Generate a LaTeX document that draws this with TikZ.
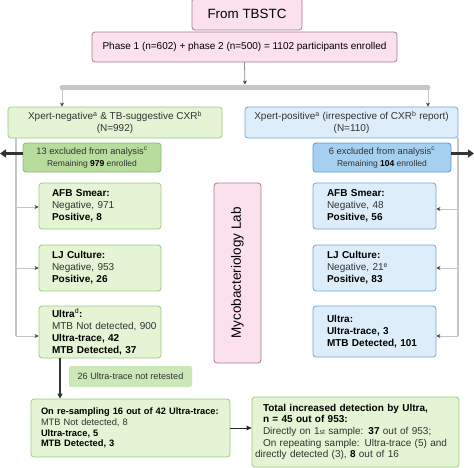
\documentclass[tikz,border=0pt]{standalone}
\usepackage{fontspec}
\setmainfont{Liberation Sans}
\usetikzlibrary{arrows.meta}
\definecolor{gfill}{HTML}{E4F4D4}
\definecolor{gdraw}{HTML}{9CCB7E}
\definecolor{gdfill}{HTML}{B7DC9C}
\definecolor{gddraw}{HTML}{8CBF6E}
\definecolor{gnote}{HTML}{CDE8B8}
\definecolor{bfill}{HTML}{DDEEFA}
\definecolor{bdraw}{HTML}{6FA7D6}
\definecolor{bdfill}{HTML}{A6D0F0}
\definecolor{bddraw}{HTML}{5B9BD0}
\definecolor{pfill}{HTML}{FBE1EB}
\definecolor{pdraw}{HTML}{A57C98}
\definecolor{lgray}{HTML}{C6C6C6}
\definecolor{txt}{HTML}{333333}
\newcommand{\bx}[1]{\textcolor{black}{\bfseries #1}}
\begin{document}
\begin{tikzpicture}[x=1pt,y=-1pt,
  box/.style={rounded corners=3pt, line width=0.8pt, inner ysep=2pt, font=\fontsize{10}{12}\selectfont, text=txt},
  gbox/.style={box, fill=gfill, draw=gdraw},
  gdbox/.style={box, fill=gdfill, draw=gddraw},
  bbox/.style={box, fill=bfill, draw=bdraw},
  bdbox/.style={box, fill=bdfill, draw=bddraw},
  pbox/.style={box, fill=pfill, draw=pdraw, text=black},
  lbox/.style={gbox, minimum width=122pt, text width=114pt, inner xsep=4pt, align=left},
  rbox/.style={bbox, minimum width=123pt, text width=115pt, inner xsep=4pt, align=left},
  glink/.style={draw=lgray, line width=1.5pt, -{Stealth[length=4pt,width=4pt,color=black!75]}},
  thickarrow/.style={draw=black!80, line width=2.6pt, -{Triangle[length=6pt,width=8pt]}},
  darrow/.style={draw=black!80, line width=1.4pt, -{Triangle[length=5pt,width=5pt]}},
  tarrow/.style={draw=black!85, line width=0.9pt, -{Triangle[length=5pt,width=4.5pt]}}
]
\useasboundingbox (0,0) rectangle (474,467);

% top
\node[pbox, minimum width=110pt, minimum height=32pt, font=\fontsize{13.4}{15}\selectfont] (from) at (247,14) {From TBSTC};
\node[pbox, minimum width=305pt, minimum height=30pt] (phase) at (244.5,47) {Phase 1 (n=602) + phase 2 (n=500) = 1102 participants enrolled};

% gray bar
\coordinate (barL) at (62,87.5);
\coordinate (barR) at (428,87.5);
\coordinate (barM) at (245,87.5);
\draw[lgray, line width=5pt, line cap=round] (barL) -- (barR);
\draw[draw=black!45, line width=0.8pt, -{Stealth[length=4pt,width=4pt,color=black!75]}, shorten >=3pt] (phase.south) -- (barM);

% main boxes
\node[gbox, minimum width=214pt, minimum height=31pt, align=center] (lmain) at (115,122.5) {Xpert-negative\textsuperscript{a} \& TB-suggestive CXR\textsuperscript{b}\\(N=992)};
\node[bbox, minimum width=213pt, minimum height=31pt, align=center] (rmain) at (351.5,122.5) {Xpert-positive\textsuperscript{a} (irrespective of CXR\textsuperscript{b} report)\\(N=110)};
\draw[glink, line width=1pt] (barL) -- (barL |- lmain.north);
\draw[glink, line width=1pt] (barR) -- (barR |- rmain.north);

% side rails
\coordinate (lv) at (16,336);
\coordinate (rv) at (458,336);
\draw[lgray, line width=1.5pt] (lmain.south -| lv) -- (lv);
\draw[lgray, line width=1.5pt] (rmain.south -| rv) -- (rv);

% excluded boxes
\node[gdbox, minimum width=138pt, minimum height=29pt, align=center, font=\fontsize{9.3}{12}\selectfont] (lexc) at (92,157.5) {13 excluded from analysis\textsuperscript{c}\\{\fontsize{8.5}{12}\selectfont Remaining \bx{979} enrolled}};
\node[bdbox, minimum width=138pt, minimum height=29pt, align=center, font=\fontsize{9.3}{12}\selectfont] (rexc) at (382,157.5) {6 excluded from analysis\textsuperscript{c}\\{\fontsize{8.5}{12}\selectfont Remaining \bx{104} enrolled}};
\coordinate (exL) at (0,153.5);
\coordinate (exR) at (474,153.5);
\draw[thickarrow] (lexc.west |- exL) -- (exL);
\draw[thickarrow] (rexc.east |- exR) -- (exR);

% left column
\node[lbox, minimum height=46pt] (lafb) at (100,206) {\leftskip=9pt\relax\bx{AFB Smear:}\\Negative, 971\\\bx{Positive, 8}\par};
\node[lbox, minimum height=46pt] (llj) at (100,268) {\leftskip=9pt\relax\bx{LJ Culture:}\\Negative, 953\\\bx{Positive, 26}\par};
\node[lbox, minimum height=52pt] (lultra) at (100,332) {\leftskip=9pt\relax\bx{Ultra\textsuperscript{\mdseries d}:}\\MTB Not detected, 900\\\bx{Ultra-trace, 42}\\\bx{MTB Detected, 37}\par};

% right column
\node[rbox, minimum height=46pt] (rafb) at (374.5,206) {\leftskip=10pt\relax\bx{AFB Smear:}\\Negative, 48\\\bx{Positive, 56}\par};
\node[rbox, minimum height=46pt] (rlj) at (374.5,268) {\leftskip=10pt\relax\bx{LJ Culture:}\\Negative, 21\textsuperscript{e}\\\bx{Positive, 83}\par};
\node[rbox, minimum height=51pt] (rultra) at (374.5,331.5) {\leftskip=10pt\relax\bx{Ultra:}\\\bx{Ultra-trace, 3}\\\bx{MTB Detected, 101}\par};

% rail arrows
\draw[glink, line width=1pt] (lv |- 0,207) -- (lafb.west |- 0,207);
\draw[glink, line width=1pt] (lv |- llj.west) -- (llj.west);
\draw[glink, line width=1pt] (lv) -- (lultra.west |- lv);
\draw[glink, line width=1pt] (rv |- 0,209) -- (rafb.east |- 0,209);
\draw[glink, line width=1pt] (rv |- rlj.east) -- (rlj.east);
\draw[glink, line width=1pt] (rv) -- (rultra.east |- rv);

% lab
\node[pbox, rotate=90, minimum width=180pt, minimum height=47pt, font=\fontsize{13.5}{15}\selectfont] (myco) at (237.5,273) {Mycobacteriology Lab};

% bottom
\node[fill=gnote, rounded corners=2pt, minimum width=123pt, minimum height=21pt, text=txt, font=\fontsize{9.1}{11}\selectfont] (note) at (130.5,376.5) {26 Ultra-trace not retested};
\node[gbox, minimum width=199pt, minimum height=58pt, text width=191pt, inner xsep=4pt, align=left, font=\fontsize{9.3}{10.7}\selectfont] (resamp) at (130.5,428) {\leftskip=6pt\relax\bx{On re-sampling 16 out of 42 Ultra-trace:}\\MTB Not detected, 8\\\bx{Ultra-trace, 5}\\\bx{MTB Detected, 3}\par};
\node[gbox, minimum width=207pt, minimum height=70pt, text width=201pt, inner xsep=3pt, align=left, font=\fontsize{10}{11.7}\selectfont] (total) at (355.5,432) {\bx{\hspace*{8pt}Total increased detection by Ultra,}\\\bx{\hspace*{8pt}n = 45 out of 953:}\\\hspace*{8pt}Directly on 1{\fontsize{7}{8}\selectfont st} sample: \bx{37} out of 953;\\\hspace*{8pt}On repeating sample: Ultra-trace (5) and\\directly detected (3), \bx{8} out of 16};

\coordinate (dx) at (60,0);
\draw[darrow] (lultra.south -| dx) -- (resamp.north -| dx);
\draw[tarrow] (resamp.east) -- (resamp.east -| total.west);
\end{tikzpicture}
\end{document}
